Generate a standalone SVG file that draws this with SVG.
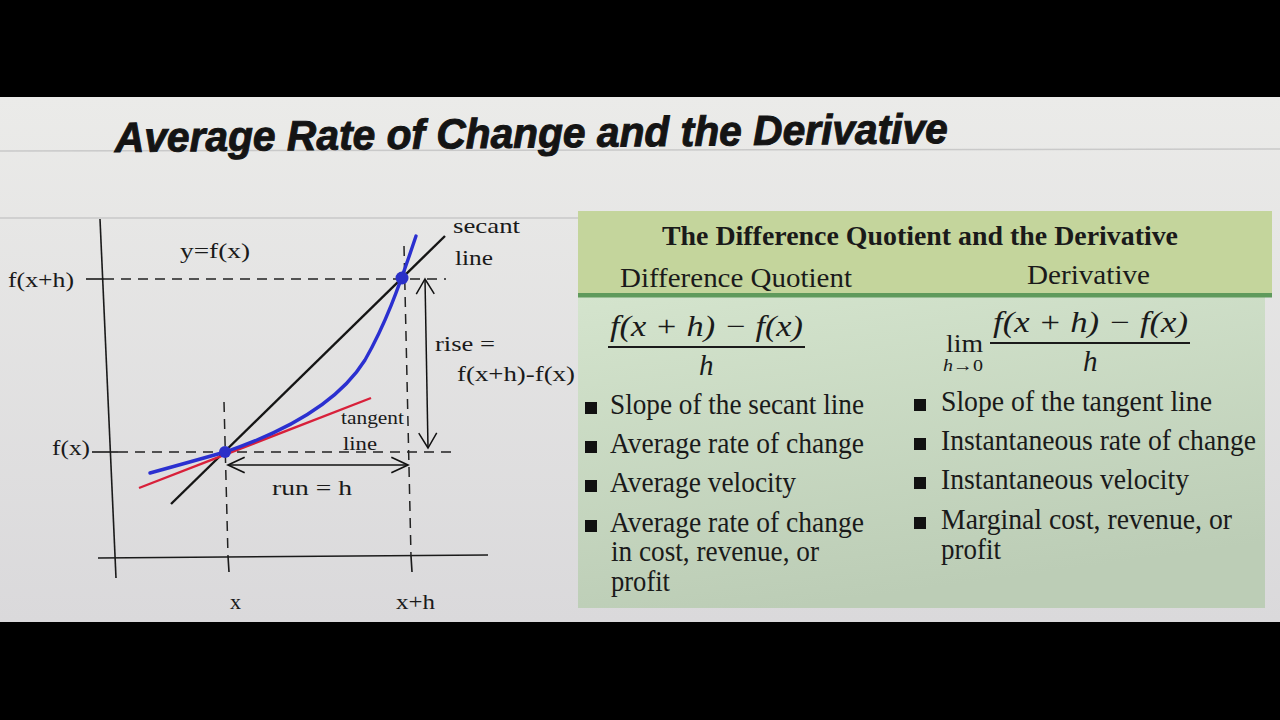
<svg xmlns="http://www.w3.org/2000/svg" width="1280" height="720" viewBox="0 0 1280 720">
  <defs>
    <linearGradient id="scr" x1="0" y1="0" x2="0" y2="1">
      <stop offset="0" stop-color="#ebebe9"/>
      <stop offset="1" stop-color="#dad9db"/>
    </linearGradient>
    <linearGradient id="body" x1="0" y1="0" x2="0.3" y2="1">
      <stop offset="0" stop-color="#d4e4cd"/>
      <stop offset="1" stop-color="#bccdb6"/>
    </linearGradient>
    <marker id="ah" markerUnits="userSpaceOnUse" markerWidth="20" markerHeight="22" viewBox="-1 -11 18 22" refX="15" refY="0" orient="auto-start-reverse">
      <path d="M0,-9 L15,0 L0,9" fill="none" stroke="#111" stroke-width="1.5"/>
    </marker>
    <marker id="ah2" markerUnits="userSpaceOnUse" markerWidth="20" markerHeight="20" viewBox="-1 -9 18 18" refX="15" refY="0" orient="auto-start-reverse">
      <path d="M0,-7 L15,0 L0,7" fill="none" stroke="#111" stroke-width="1.5"/>
    </marker>
  </defs>
  <style>
    .dash { stroke: #222; stroke-width: 1.5; stroke-dasharray: 10 7; fill: none; }
    .solid { stroke: #1a1a1a; stroke-width: 1.6; fill: none; }
    .faint { stroke: #c9c9c9; stroke-width: 1.5; }
    .bul { fill: #111; }
  </style>

  <!-- black frame -->
  <rect x="0" y="0" width="1280" height="720" fill="#000"/>
  <rect x="0" y="97" width="1280" height="525" fill="url(#scr)"/>
  <line class="faint" x1="0" y1="151" x2="1280" y2="149"/>
  <line class="faint" x1="0" y1="218" x2="578" y2="218"/>

  <!-- title -->
  <text x="115" y="152" transform="rotate(-0.62 115 152)" font-family="'Liberation Sans', sans-serif" font-weight="bold" font-style="italic" font-size="42" textLength="833" lengthAdjust="spacingAndGlyphs" fill="#141414" stroke="#141414" stroke-width="1">Average Rate of Change and the Derivative</text>

  <!-- graph -->
  <g id="graph">
    <g id="axes">
      <line class="solid" x1="100" y1="219" x2="116" y2="578"/>
      <line class="solid" x1="98" y1="558" x2="488" y2="555"/>
      <line class="solid" x1="228" y1="556" x2="229" y2="572"/>
      <line class="solid" x1="411" y1="556" x2="412" y2="572"/>
      <line class="solid" x1="86" y1="279" x2="104" y2="279"/>
      <line class="solid" x1="92" y1="452" x2="118" y2="452"/>
    </g>
    <g id="guides">
      <line class="dash" x1="104" y1="279" x2="446" y2="279"/>
      <line class="dash" x1="118" y1="452" x2="452" y2="452"/>
      <line class="dash" x1="224" y1="402" x2="228" y2="556"/>
      <line class="dash" x1="404" y1="246" x2="411" y2="556"/>
    </g>
    <g id="curves">
      <line x1="171" y1="504" x2="445" y2="236" stroke="#151515" stroke-width="2.4"/>
      <line x1="139" y1="488" x2="371" y2="398" stroke="#d8203a" stroke-width="2.4"/>
      <path d="M150,473 Q190,462 225,452 C290,430 340,400 365,360 C385,325 398,290 416,236" fill="none" stroke="#2b30d0" stroke-width="3.4" stroke-linecap="round"/>
      <circle cx="225" cy="452" r="6" fill="#2b30c8"/>
      <circle cx="402" cy="278" r="6.5" fill="#2b30c8"/>
    </g>
    <g id="connectors">
      <line x1="425" y1="279" x2="428" y2="448" stroke="#111" stroke-width="1.5" marker-start="url(#ah)" marker-end="url(#ah)"/>
      <line x1="228" y1="465" x2="408" y2="465" stroke="#111" stroke-width="1.5" marker-start="url(#ah2)" marker-end="url(#ah2)"/>
    </g>
    <g id="graph-labels" font-family="'Liberation Serif', serif" font-size="22" fill="#1a1a1a">
      <text x="8" y="287" textLength="66" lengthAdjust="spacingAndGlyphs">f(x+h)</text>
      <text x="180" y="258" textLength="70" lengthAdjust="spacingAndGlyphs">y=f(x)</text>
      <text x="453" y="233" textLength="67" lengthAdjust="spacingAndGlyphs">secant</text>
      <text x="455" y="265" textLength="38" lengthAdjust="spacingAndGlyphs">line</text>
      <text x="435" y="351" textLength="60" lengthAdjust="spacingAndGlyphs">rise =</text>
      <text x="457" y="381" textLength="118" lengthAdjust="spacingAndGlyphs">f(x+h)-f(x)</text>
      <text x="341" y="424" font-size="18" textLength="63" lengthAdjust="spacingAndGlyphs">tangent</text>
      <text x="343" y="450" font-size="19" textLength="34" lengthAdjust="spacingAndGlyphs">line</text>
      <text x="52" y="455" textLength="38" lengthAdjust="spacingAndGlyphs">f(x)</text>
      <text x="272" y="495" textLength="80" lengthAdjust="spacingAndGlyphs">run = h</text>
      <text x="230" y="609">x</text>
      <text x="396" y="609" textLength="39" lengthAdjust="spacingAndGlyphs">x+h</text>
    </g>
  </g>

  <!-- table -->
  <g id="table">
    <rect x="578" y="211" width="694" height="84" fill="#c4d59c"/>
    <rect x="578" y="297" width="687" height="311" fill="url(#body)"/>
    <rect x="578" y="293" width="694" height="4.5" fill="#5f9a5c"/>
    <g id="table-header" font-family="'Liberation Serif', serif" fill="#1a1a1a">
      <text x="662" y="245" font-size="28" font-weight="bold" textLength="516" lengthAdjust="spacingAndGlyphs">The Difference Quotient and the Derivative</text>
      <text x="620" y="287" font-size="28" textLength="232" lengthAdjust="spacingAndGlyphs">Difference Quotient</text>
      <text x="1027" y="284" font-size="28" textLength="123" lengthAdjust="spacingAndGlyphs">Derivative</text>
    </g>
    <g id="formulas" font-family="'Liberation Serif', serif" fill="#1a1a1a">
      <text x="610" y="336" font-size="29" font-style="italic" textLength="193" lengthAdjust="spacingAndGlyphs">f(x + h) − f(x)</text>
      <line x1="608" y1="347" x2="805" y2="347" stroke="#1a1a1a" stroke-width="2"/>
      <text x="699" y="375" font-size="29" font-style="italic">h</text>
      <text x="946" y="352" font-size="26" textLength="37" lengthAdjust="spacingAndGlyphs">lim</text>
      <text x="943" y="371" font-size="17" textLength="40" lengthAdjust="spacingAndGlyphs"><tspan font-style="italic">h</tspan>→0</text>
      <text x="993" y="332" font-size="29" font-style="italic" textLength="195" lengthAdjust="spacingAndGlyphs">f(x + h) − f(x)</text>
      <line x1="990" y1="343" x2="1190" y2="343" stroke="#1a1a1a" stroke-width="2"/>
      <text x="1083" y="371" font-size="29" font-style="italic">h</text>
    </g>
    <g id="left-bullets" font-family="'Liberation Serif', serif" font-size="29" fill="#1a1a1a">
      <rect class="bul" x="585" y="402" width="12" height="12"/>
      <text x="610" y="414" textLength="254" lengthAdjust="spacingAndGlyphs">Slope of the secant line</text>
      <rect class="bul" x="585" y="441" width="12" height="12"/>
      <text x="610" y="453" textLength="254" lengthAdjust="spacingAndGlyphs">Average rate of change</text>
      <rect class="bul" x="585" y="480" width="12" height="12"/>
      <text x="610" y="492" textLength="186" lengthAdjust="spacingAndGlyphs">Average velocity</text>
      <rect class="bul" x="585" y="520" width="12" height="12"/>
      <text x="610" y="532" textLength="254" lengthAdjust="spacingAndGlyphs">Average rate of change</text>
      <text x="611" y="561" textLength="208" lengthAdjust="spacingAndGlyphs">in cost, revenue, or</text>
      <text x="611" y="591" textLength="59" lengthAdjust="spacingAndGlyphs">profit</text>
    </g>
    <g id="right-bullets" font-family="'Liberation Serif', serif" font-size="29" fill="#1a1a1a">
      <rect class="bul" x="914" y="399" width="12" height="12"/>
      <text x="941" y="411" textLength="271" lengthAdjust="spacingAndGlyphs">Slope of the tangent line</text>
      <rect class="bul" x="914" y="438" width="12" height="12"/>
      <text x="941" y="450" textLength="315" lengthAdjust="spacingAndGlyphs">Instantaneous rate of change</text>
      <rect class="bul" x="914" y="477" width="12" height="12"/>
      <text x="941" y="489" textLength="248" lengthAdjust="spacingAndGlyphs">Instantaneous velocity</text>
      <rect class="bul" x="914" y="517" width="12" height="12"/>
      <text x="941" y="529" textLength="291" lengthAdjust="spacingAndGlyphs">Marginal cost, revenue, or</text>
      <text x="941" y="559" textLength="60" lengthAdjust="spacingAndGlyphs">profit</text>
    </g>
  </g>
</svg>
